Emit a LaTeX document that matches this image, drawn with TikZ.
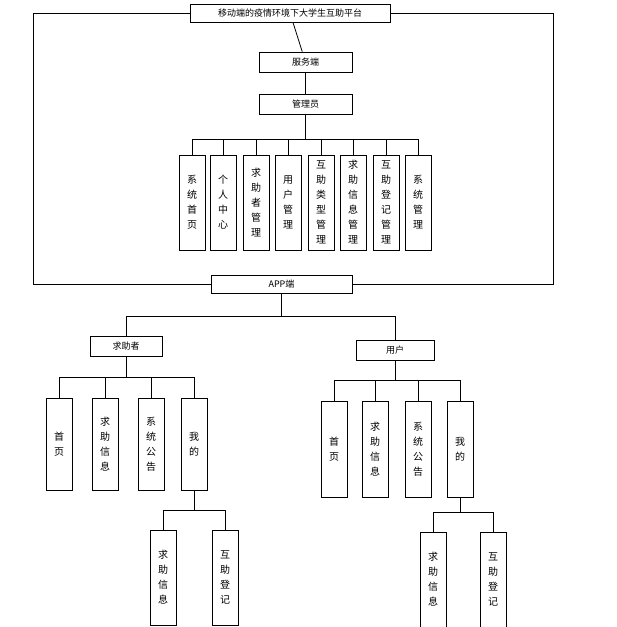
\documentclass[tikz,border=0pt]{standalone}
\usepackage{fontspec}
\setmainfont{Noto Sans CJK SC}
\begin{document}
\begin{tikzpicture}[x=1pt,y=-1pt,
  hb/.style={draw,line width=0.8pt,minimum height=20pt,inner sep=1pt,font=\fontsize{9}{10}\selectfont},
  vb/.style={draw,line width=0.8pt,minimum width=26pt,inner sep=1pt,align=center,font=\fontsize{10}{15}\selectfont},
  ln/.style={line width=0.8pt}]
\useasboundingbox (0,0) rectangle (617,627);
\node[hb,minimum width=200pt,minimum height=18pt] (top) at (290,13) {移动端的疫情环境下大学生互助平台};
\node[hb,minimum width=93pt] (fw) at (305.5,62) {服务端};
\node[hb,minimum width=93pt] (gl) at (305.5,104) {管理员};
\node[hb,minimum width=141pt,minimum height=18pt] (app) at (281.5,284) {APP端};
\draw[ln] (top.west) -- (33,13) -- (33,284) -- (app.west);
\draw[ln] (top.east) -- (553,13) -- (553,284) -- (app.east);
\draw[ln] (top) -- (fw); \draw[ln] (fw) -- (gl);
\coordinate (b1) at (305.5,139);
\draw[ln] (gl) -- (b1);
\foreach \n/\x/\t in {a/192/系\\统\\首\\页, b/223/个\\人\\中\\心, c/256/求\\助\\者\\管\\理, d/288/用\\户\\管\\理, e/321/互\\助\\类\\型\\管\\理, f/353/求\\助\\信\\息\\管\\理, g/386/互\\助\\登\\记\\管\\理, h/418/系\\统\\管\\理}{
  \node[vb,minimum height=95pt] (m\n) at (\x,202.5) {\t};
  \draw[ln] (\x,139) -- (m\n.north);
}
\draw[ln] (192,139) -- (418,139);
\node[hb,minimum width=72pt] (qz) at (126,346) {求助者};
\node[hb,minimum width=78pt] (yh) at (395,350) {用户};
\draw[ln] (app) -- (281.5,316);
\draw[ln] (126,316) -- (395,316);
\draw[ln] (126,316) -- (qz.north); \draw[ln] (395,316) -- (yh.north);
% qiuzhuzhe
\draw[ln] (qz) -- (126,377); \draw[ln] (59,377) -- (194,377);
\foreach \n/\x/\t in {a/59/首\\页, b/105/求\\助\\信\\息, c/151/系\\统\\公\\告, d/194/我\\的}{
  \node[vb,minimum height=92pt] (q\n) at (\x,444) {\t};
  \draw[ln] (\x,377) -- (q\n.north);
}
\draw[ln] (qd) -- (194,510); \draw[ln] (163,510) -- (225,510);
\node[vb,minimum height=95pt] (qe) at (163,577.5) {求\\助\\信\\息};
\node[vb,minimum height=95pt] (qf) at (225,577.5) {互\\助\\登\\记};
\draw[ln] (163,510) -- (qe.north); \draw[ln] (225,510) -- (qf.north);
% yonghu
\draw[ln] (yh) -- (395,380); \draw[ln] (334,380) -- (460,380);
\foreach \n/\x/\t in {a/334/首\\页, b/375/求\\助\\信\\息, c/418/系\\统\\公\\告, d/460/我\\的}{
  \node[vb,minimum height=96pt] (u\n) at (\x,449) {\t};
  \draw[ln] (\x,380) -- (u\n.north);
}
\draw[ln] (ud) -- (460,512); \draw[ln] (433,512) -- (493,512);
\node[vb,minimum height=95pt] (ue) at (433,579.5) {求\\助\\信\\息};
\node[vb,minimum height=95pt] (uf) at (493,579.5) {互\\助\\登\\记};
\draw[ln] (433,512) -- (ue.north); \draw[ln] (493,512) -- (uf.north);
\end{tikzpicture}
\end{document}
